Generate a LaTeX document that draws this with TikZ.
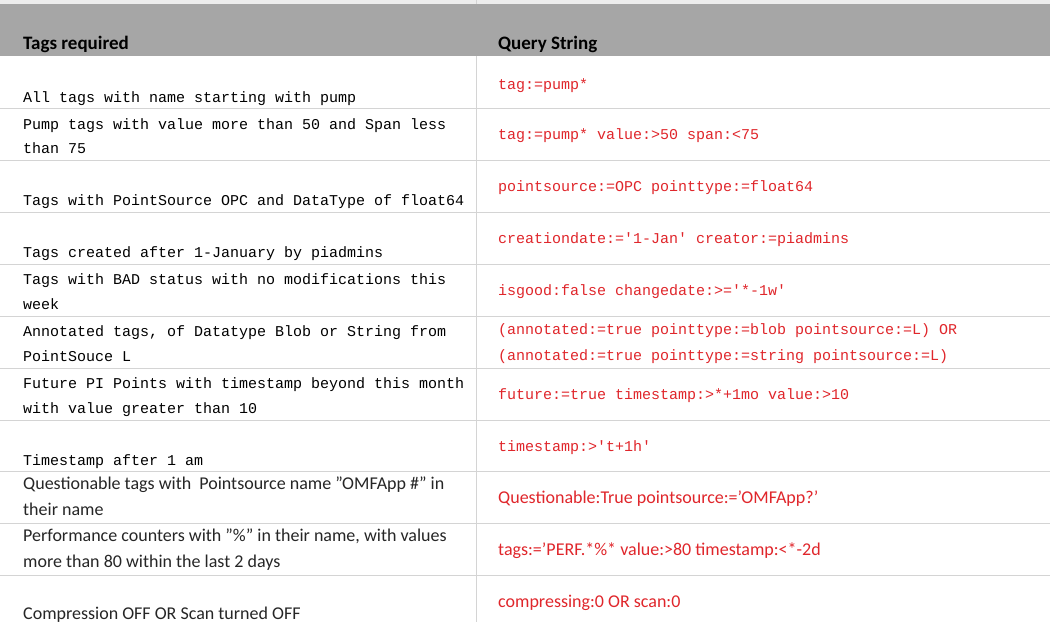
\documentclass[tikz,border=0pt]{standalone}
\usepackage{fontspec}
\setmainfont[Ligatures=ResetAll]{Carlito}
\newfontfamily\mono{Liberation Mono}
\definecolor{hdr}{HTML}{A6A6A6}
\definecolor{grid}{HTML}{D4D4D4}
\definecolor{qred}{HTML}{E0262B}
\begin{document}
\begin{tikzpicture}[x=1pt,y=-1pt,
  lt/.style={anchor=base west,inner sep=0pt,font=\mono\fontsize{15}{18}\selectfont,text=black},
  ltc/.style={anchor=base west,inner sep=0pt,font=\fontsize{18}{21}\selectfont,text=black!85},
  rt/.style={anchor=base west,inner sep=0pt,font=\mono\fontsize{15}{18}\selectfont,text=qred},
  rtc/.style={anchor=base west,inner sep=0pt,font=\fontsize{18}{21}\selectfont,text=qred},
  hd/.style={anchor=base west,inner sep=0pt,font=\bfseries\fontsize{19}{22}\selectfont}]
\useasboundingbox (0,0) rectangle (1050,622);
\fill[white] (0,0) rectangle (1050,622);
\fill[black!7] (0,0) rectangle (1050,4);
\fill[hdr] (0,4) rectangle (1050,56);
\draw[grid] (476,0) -- (476,4);
\draw[grid] (476,56) -- (476,622);
\foreach \y in {108,160,212,264,316,368,420,471,523,575} \draw[grid] (0,\y) -- (1050,\y);
\node[hd] (h1) at (23,49) {Tags required};
\node[hd] (h2) at (498,49) {Query String};
\node[lt] (l1) at (23,102) {All tags with name starting with pump};
\node[lt] (l2a) at (23,129) {Pump tags with value more than 50 and Span less};
\node[lt] (l2b) at (23,153) {than 75};
\node[lt] (l3) at (23,205) {Tags with PointSource OPC and DataType of float64};
\node[lt] (l4) at (23,257) {Tags created after 1-January by piadmins};
\node[lt] (l5a) at (23,284) {Tags with BAD status with no modifications this};
\node[lt] (l5b) at (23,309) {week};
\node[lt] (l6a) at (23,336) {Annotated tags, of Datatype Blob or String from};
\node[lt] (l6b) at (23,361) {PointSouce L};
\node[lt] (l7a) at (23,388) {Future PI Points with timestamp beyond this month};
\node[lt] (l7b) at (23,413) {with value greater than 10};
\node[lt] (l8) at (23,465) {Timestamp after 1 am};
\node[ltc] (l9a) at (23,489) {Questionable tags with~ Pointsource name \symbol{34}OMFApp \#\symbol{34} in};
\node[ltc] (l9b) at (23,515) {their name};
\node[ltc] (l10a) at (23,541) {Performance counters with \symbol{34}\%\symbol{34} in their name, with values};
\node[ltc] (l10b) at (23,567) {more than 80 within the last 2 days};
\node[ltc] (l11) at (23,619) {Compression OFF OR Scan turned OFF};
\node[rt] (r1) at (498,89) {tag:=pump*};
\node[rt] (r2) at (498,139) {tag:=pump* value:>50 span:<75};
\node[rt] (r3) at (498,191) {pointsource:=OPC pointtype:=float64};
\node[rt] (r4) at (498,243) {creationdate:='1-Jan' creator:=piadmins};
\node[rt] (r5) at (498,295) {isgood:false changedate:>='*-1w'};
\node[rt] (r6a) at (498,334) {(annotated:=true pointtype:=blob pointsource:=L) OR};
\node[rt] (r6b) at (498,360) {(annotated:=true pointtype:=string pointsource:=L)};
\node[rt] (r7) at (498,399) {future:=true timestamp:>*+1mo value:>10};
\node[rt] (r8) at (498,451) {timestamp:>'t+1h'};
\node[rtc] (r9) at (498,503) {Questionable:True pointsource:=\symbol{39}OMFApp?\symbol{39}};
\node[rtc] (r10) at (498,555) {tags:=\symbol{39}PERF.*\%* value:>80 timestamp:<*-2d};
\node[rtc] (r11) at (498,607) {compressing:0 OR scan:0};
\end{tikzpicture}
\end{document}
